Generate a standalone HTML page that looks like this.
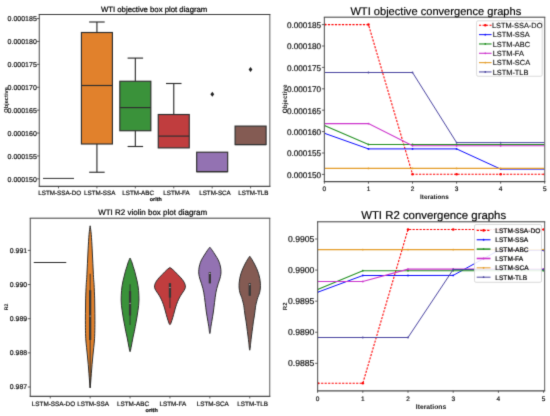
<!DOCTYPE html>
<html><head><meta charset="utf-8"><style>
html,body{margin:0;padding:0;background:#fff;}
svg{display:block;font-family:"Liberation Sans", sans-serif;text-rendering:geometricPrecision;}
#wrap{width:550px;height:416px;overflow:hidden;will-change:transform;}
</style></head><body>
<div id="wrap"><svg width="550" height="416" viewBox="0 0 550 416">
<defs><filter id="soft" x="0" y="0" width="550" height="416" filterUnits="userSpaceOnUse" color-interpolation-filters="sRGB"><feConvolveMatrix order="3" kernelMatrix="0.01440 0.09120 0.01440 0.09120 0.57760 0.09120 0.01440 0.09120 0.01440" edgeMode="duplicate" preserveAlpha="true"/></filter></defs>
<g filter="url(#soft)">
<rect x="0" y="0" width="550" height="416" fill="#fff"/>
<text x="154.15" y="12.00" font-size="7.76" text-anchor="middle" fill="#000" stroke="#000" stroke-width="0.22" >WTI objective box plot diagram</text>
<line x1="43.01" y1="178.40" x2="74.01" y2="178.40" stroke="#2e2e2e" stroke-width="1.0" />
<line x1="96.92" y1="22.00" x2="96.92" y2="32.50" stroke="#2e2e2e" stroke-width="1.15" />
<line x1="89.17" y1="22.00" x2="104.67" y2="22.00" stroke="#2e2e2e" stroke-width="1.15" />
<line x1="96.92" y1="144.00" x2="96.92" y2="172.25" stroke="#2e2e2e" stroke-width="1.15" />
<line x1="89.17" y1="172.25" x2="104.67" y2="172.25" stroke="#2e2e2e" stroke-width="1.15" />
<rect x="81.42" y="32.50" width="31.00" height="111.50" fill="#e1812c" stroke="#2e2e2e" stroke-width="1.15" />
<line x1="81.42" y1="85.50" x2="112.42" y2="85.50" stroke="#2e2e2e" stroke-width="1.15" />
<line x1="135.34" y1="58.10" x2="135.34" y2="81.25" stroke="#2e2e2e" stroke-width="1.15" />
<line x1="127.59" y1="58.10" x2="143.09" y2="58.10" stroke="#2e2e2e" stroke-width="1.15" />
<line x1="135.34" y1="130.75" x2="135.34" y2="146.50" stroke="#2e2e2e" stroke-width="1.15" />
<line x1="127.59" y1="146.50" x2="143.09" y2="146.50" stroke="#2e2e2e" stroke-width="1.15" />
<rect x="119.84" y="81.25" width="31.00" height="49.50" fill="#3a923a" stroke="#2e2e2e" stroke-width="1.15" />
<line x1="119.84" y1="107.60" x2="150.84" y2="107.60" stroke="#2e2e2e" stroke-width="1.15" />
<line x1="173.76" y1="83.50" x2="173.76" y2="114.50" stroke="#2e2e2e" stroke-width="1.15" />
<line x1="166.01" y1="83.50" x2="181.51" y2="83.50" stroke="#2e2e2e" stroke-width="1.15" />
<rect x="158.26" y="114.50" width="31.00" height="33.40" fill="#c03d3e" stroke="#2e2e2e" stroke-width="1.15" />
<line x1="158.26" y1="136.10" x2="189.26" y2="136.10" stroke="#2e2e2e" stroke-width="1.15" />
<rect x="196.68" y="152.20" width="31.00" height="19.50" fill="#9372b2" stroke="#2e2e2e" stroke-width="1.15" />
<line x1="196.68" y1="171.70" x2="227.68" y2="171.70" stroke="#2e2e2e" stroke-width="1.15" />
<rect x="235.09" y="126.10" width="31.00" height="18.50" fill="#845b53" stroke="#2e2e2e" stroke-width="1.15" />
<line x1="235.09" y1="144.60" x2="266.09" y2="144.60" stroke="#2e2e2e" stroke-width="1.15" />
<path d="M212.30,91.85 L214.20,94.35 L212.30,96.85 L210.40,94.35 Z" fill="#222"/>
<path d="M250.50,67.10 L252.40,69.60 L250.50,72.10 L248.60,69.60 Z" fill="#222"/>
<line x1="39.30" y1="14.50" x2="39.30" y2="186.40" stroke="#666" stroke-width="1.2"/>
<line x1="269.80" y1="14.50" x2="269.80" y2="186.40" stroke="#777" stroke-width="1.2"/>
<line x1="38.70" y1="14.50" x2="270.40" y2="14.50" stroke="#3c3c3c" stroke-width="1.0"/>
<line x1="38.70" y1="186.40" x2="270.40" y2="186.40" stroke="#4a4a4a" stroke-width="1.2"/>
<line x1="36.80" y1="178.85" x2="39.30" y2="178.85" stroke="#3a3a3a" stroke-width="0.8" />
<text x="36.80" y="181.75" font-size="7.0" text-anchor="end" fill="#111111" stroke="#111111" stroke-width="0.2" >0.000150</text>
<line x1="36.80" y1="155.95" x2="39.30" y2="155.95" stroke="#3a3a3a" stroke-width="0.8" />
<text x="36.80" y="158.85" font-size="7.0" text-anchor="end" fill="#111111" stroke="#111111" stroke-width="0.2" >0.000155</text>
<line x1="36.80" y1="133.05" x2="39.30" y2="133.05" stroke="#3a3a3a" stroke-width="0.8" />
<text x="36.80" y="135.95" font-size="7.0" text-anchor="end" fill="#111111" stroke="#111111" stroke-width="0.2" >0.000160</text>
<line x1="36.80" y1="110.15" x2="39.30" y2="110.15" stroke="#3a3a3a" stroke-width="0.8" />
<text x="36.80" y="113.05" font-size="7.0" text-anchor="end" fill="#111111" stroke="#111111" stroke-width="0.2" >0.000165</text>
<line x1="36.80" y1="87.25" x2="39.30" y2="87.25" stroke="#3a3a3a" stroke-width="0.8" />
<text x="36.80" y="90.15" font-size="7.0" text-anchor="end" fill="#111111" stroke="#111111" stroke-width="0.2" >0.000170</text>
<line x1="36.80" y1="64.35" x2="39.30" y2="64.35" stroke="#3a3a3a" stroke-width="0.8" />
<text x="36.80" y="67.25" font-size="7.0" text-anchor="end" fill="#111111" stroke="#111111" stroke-width="0.2" >0.000175</text>
<line x1="36.80" y1="41.45" x2="39.30" y2="41.45" stroke="#3a3a3a" stroke-width="0.8" />
<text x="36.80" y="44.35" font-size="7.0" text-anchor="end" fill="#111111" stroke="#111111" stroke-width="0.2" >0.000180</text>
<line x1="36.80" y1="18.55" x2="39.30" y2="18.55" stroke="#3a3a3a" stroke-width="0.8" />
<text x="36.80" y="21.45" font-size="7.0" text-anchor="end" fill="#111111" stroke="#111111" stroke-width="0.2" >0.000185</text>
<line x1="58.51" y1="186.40" x2="58.51" y2="188.40" stroke="#3a3a3a" stroke-width="0.8" />
<text x="59.71" y="195.00" font-size="6.25" text-anchor="middle" fill="#111111" stroke="#111111" stroke-width="0.2" >LSTM-SSA-DO</text>
<line x1="96.92" y1="186.40" x2="96.92" y2="188.40" stroke="#3a3a3a" stroke-width="0.8" />
<text x="99.72" y="195.00" font-size="6.25" text-anchor="middle" fill="#111111" stroke="#111111" stroke-width="0.2" >LSTM-SSA</text>
<line x1="135.34" y1="186.40" x2="135.34" y2="188.40" stroke="#3a3a3a" stroke-width="0.8" />
<text x="138.14" y="195.00" font-size="6.25" text-anchor="middle" fill="#111111" stroke="#111111" stroke-width="0.2" >LSTM-ABC</text>
<line x1="173.76" y1="186.40" x2="173.76" y2="188.40" stroke="#3a3a3a" stroke-width="0.8" />
<text x="176.56" y="195.00" font-size="6.25" text-anchor="middle" fill="#111111" stroke="#111111" stroke-width="0.2" >LSTM-FA</text>
<line x1="212.18" y1="186.40" x2="212.18" y2="188.40" stroke="#3a3a3a" stroke-width="0.8" />
<text x="214.98" y="195.00" font-size="6.25" text-anchor="middle" fill="#111111" stroke="#111111" stroke-width="0.2" >LSTM-SCA</text>
<line x1="250.59" y1="186.40" x2="250.59" y2="188.40" stroke="#3a3a3a" stroke-width="0.8" />
<text x="253.39" y="195.00" font-size="6.25" text-anchor="middle" fill="#111111" stroke="#111111" stroke-width="0.2" >LSTM-TLB</text>
<text x="155.80" y="201.20" font-size="5.4" text-anchor="middle" font-weight="bold" fill="#111111" stroke="#111111" stroke-width="0.2" >orith</text>
<text transform="translate(7.7,100) rotate(-90)" font-size="5.7" text-anchor="middle" font-weight="bold" fill="#111111">Objective</text>
<text x="435.80" y="14.50" font-size="11.1" text-anchor="middle" fill="#000" stroke="#000" stroke-width="0.16" >WTI objective convergence graphs</text>
<clipPath id="ctr"><rect x="324.4" y="17.2" width="220.30000000000007" height="164.5"/></clipPath>
<polyline points="324.40,24.60 368.46,24.60 412.52,174.20 456.58,174.20 500.64,174.20 544.70,174.20" fill="none" stroke="#ff0000" stroke-width="1.1" stroke-dasharray="2.2,1.3" clip-path="url(#ctr)"/>
<circle cx="324.40" cy="24.60" r="1.3" fill="#ff0000" clip-path="url(#ctr)"/>
<circle cx="368.46" cy="24.60" r="1.3" fill="#ff0000" clip-path="url(#ctr)"/>
<circle cx="412.52" cy="174.20" r="1.3" fill="#ff0000" clip-path="url(#ctr)"/>
<circle cx="456.58" cy="174.20" r="1.3" fill="#ff0000" clip-path="url(#ctr)"/>
<circle cx="500.64" cy="174.20" r="1.3" fill="#ff0000" clip-path="url(#ctr)"/>
<circle cx="544.70" cy="174.20" r="1.3" fill="#ff0000" clip-path="url(#ctr)"/>
<polyline points="324.40,133.25 368.46,148.90 412.52,148.90 456.58,148.90 500.64,169.10 544.70,169.10" fill="none" stroke="#0a0aff" stroke-width="1.0" clip-path="url(#ctr)"/>
<circle cx="324.40" cy="133.25" r="0.9" fill="#0a0aff" clip-path="url(#ctr)"/>
<circle cx="368.46" cy="148.90" r="0.9" fill="#0a0aff" clip-path="url(#ctr)"/>
<circle cx="412.52" cy="148.90" r="0.9" fill="#0a0aff" clip-path="url(#ctr)"/>
<circle cx="456.58" cy="148.90" r="0.9" fill="#0a0aff" clip-path="url(#ctr)"/>
<circle cx="500.64" cy="169.10" r="0.9" fill="#0a0aff" clip-path="url(#ctr)"/>
<circle cx="544.70" cy="169.10" r="0.9" fill="#0a0aff" clip-path="url(#ctr)"/>
<polyline points="324.40,125.50 368.46,144.50 412.52,144.50 456.58,144.50 500.64,144.50 544.70,144.50" fill="none" stroke="#1f8f1f" stroke-width="1.1" clip-path="url(#ctr)"/>
<circle cx="324.40" cy="125.50" r="0.9" fill="#1f8f1f" clip-path="url(#ctr)"/>
<circle cx="368.46" cy="144.50" r="0.9" fill="#1f8f1f" clip-path="url(#ctr)"/>
<circle cx="412.52" cy="144.50" r="0.9" fill="#1f8f1f" clip-path="url(#ctr)"/>
<circle cx="456.58" cy="144.50" r="0.9" fill="#1f8f1f" clip-path="url(#ctr)"/>
<circle cx="500.64" cy="144.50" r="0.9" fill="#1f8f1f" clip-path="url(#ctr)"/>
<circle cx="544.70" cy="144.50" r="0.9" fill="#1f8f1f" clip-path="url(#ctr)"/>
<polyline points="324.40,123.60 368.46,123.60 412.52,145.80 456.58,145.80 500.64,145.80 544.70,145.80" fill="none" stroke="#cc33cc" stroke-width="1.1" clip-path="url(#ctr)"/>
<circle cx="324.40" cy="123.60" r="0.9" fill="#cc33cc" clip-path="url(#ctr)"/>
<circle cx="368.46" cy="123.60" r="0.9" fill="#cc33cc" clip-path="url(#ctr)"/>
<circle cx="412.52" cy="145.80" r="0.9" fill="#cc33cc" clip-path="url(#ctr)"/>
<circle cx="456.58" cy="145.80" r="0.9" fill="#cc33cc" clip-path="url(#ctr)"/>
<circle cx="500.64" cy="145.80" r="0.9" fill="#cc33cc" clip-path="url(#ctr)"/>
<circle cx="544.70" cy="145.80" r="0.9" fill="#cc33cc" clip-path="url(#ctr)"/>
<polyline points="324.40,168.40 368.46,168.40 412.52,168.40 456.58,168.40 500.64,168.40 544.70,168.40" fill="none" stroke="#e49c28" stroke-width="1.1" clip-path="url(#ctr)"/>
<circle cx="324.40" cy="168.40" r="0.9" fill="#e49c28" clip-path="url(#ctr)"/>
<circle cx="368.46" cy="168.40" r="0.9" fill="#e49c28" clip-path="url(#ctr)"/>
<circle cx="412.52" cy="168.40" r="0.9" fill="#e49c28" clip-path="url(#ctr)"/>
<circle cx="456.58" cy="168.40" r="0.9" fill="#e49c28" clip-path="url(#ctr)"/>
<circle cx="500.64" cy="168.40" r="0.9" fill="#e49c28" clip-path="url(#ctr)"/>
<circle cx="544.70" cy="168.40" r="0.9" fill="#e49c28" clip-path="url(#ctr)"/>
<polyline points="324.40,72.50 368.46,72.50 412.52,72.50 456.58,142.60 500.64,142.60 544.70,142.60" fill="none" stroke="#4a44a0" stroke-width="1.0" clip-path="url(#ctr)"/>
<circle cx="324.40" cy="72.50" r="0.9" fill="#4a44a0" clip-path="url(#ctr)"/>
<circle cx="368.46" cy="72.50" r="0.9" fill="#4a44a0" clip-path="url(#ctr)"/>
<circle cx="412.52" cy="72.50" r="0.9" fill="#4a44a0" clip-path="url(#ctr)"/>
<circle cx="456.58" cy="142.60" r="0.9" fill="#4a44a0" clip-path="url(#ctr)"/>
<circle cx="500.64" cy="142.60" r="0.9" fill="#4a44a0" clip-path="url(#ctr)"/>
<circle cx="544.70" cy="142.60" r="0.9" fill="#4a44a0" clip-path="url(#ctr)"/>
<line x1="324.40" y1="17.20" x2="324.40" y2="181.70" stroke="#666" stroke-width="1.2"/>
<line x1="544.70" y1="17.20" x2="544.70" y2="181.70" stroke="#777" stroke-width="1.2"/>
<line x1="323.80" y1="17.20" x2="545.30" y2="17.20" stroke="#3c3c3c" stroke-width="1.0"/>
<line x1="323.80" y1="181.70" x2="545.30" y2="181.70" stroke="#4a4a4a" stroke-width="1.2"/>
<line x1="321.90" y1="174.40" x2="324.40" y2="174.40" stroke="#3a3a3a" stroke-width="0.8" />
<text x="321.10" y="177.80" font-size="8.2" text-anchor="end" fill="#111111" stroke="#111111" stroke-width="0.2" >0.000150</text>
<line x1="321.90" y1="153.00" x2="324.40" y2="153.00" stroke="#3a3a3a" stroke-width="0.8" />
<text x="321.10" y="156.40" font-size="8.2" text-anchor="end" fill="#111111" stroke="#111111" stroke-width="0.2" >0.000155</text>
<line x1="321.90" y1="131.60" x2="324.40" y2="131.60" stroke="#3a3a3a" stroke-width="0.8" />
<text x="321.10" y="135.00" font-size="8.2" text-anchor="end" fill="#111111" stroke="#111111" stroke-width="0.2" >0.000160</text>
<line x1="321.90" y1="110.20" x2="324.40" y2="110.20" stroke="#3a3a3a" stroke-width="0.8" />
<text x="321.10" y="113.60" font-size="8.2" text-anchor="end" fill="#111111" stroke="#111111" stroke-width="0.2" >0.000165</text>
<line x1="321.90" y1="88.80" x2="324.40" y2="88.80" stroke="#3a3a3a" stroke-width="0.8" />
<text x="321.10" y="92.20" font-size="8.2" text-anchor="end" fill="#111111" stroke="#111111" stroke-width="0.2" >0.000170</text>
<line x1="321.90" y1="67.40" x2="324.40" y2="67.40" stroke="#3a3a3a" stroke-width="0.8" />
<text x="321.10" y="70.80" font-size="8.2" text-anchor="end" fill="#111111" stroke="#111111" stroke-width="0.2" >0.000175</text>
<line x1="321.90" y1="46.00" x2="324.40" y2="46.00" stroke="#3a3a3a" stroke-width="0.8" />
<text x="321.10" y="49.40" font-size="8.2" text-anchor="end" fill="#111111" stroke="#111111" stroke-width="0.2" >0.000180</text>
<line x1="321.90" y1="24.60" x2="324.40" y2="24.60" stroke="#3a3a3a" stroke-width="0.8" />
<text x="321.10" y="28.00" font-size="8.2" text-anchor="end" fill="#111111" stroke="#111111" stroke-width="0.2" >0.000185</text>
<line x1="324.40" y1="181.70" x2="324.40" y2="183.70" stroke="#3a3a3a" stroke-width="0.8" />
<text x="324.40" y="191.40" font-size="6.5" text-anchor="middle" fill="#111111" stroke="#111111" stroke-width="0.2" >0</text>
<line x1="368.46" y1="181.70" x2="368.46" y2="183.70" stroke="#3a3a3a" stroke-width="0.8" />
<text x="368.46" y="191.40" font-size="6.5" text-anchor="middle" fill="#111111" stroke="#111111" stroke-width="0.2" >1</text>
<line x1="412.52" y1="181.70" x2="412.52" y2="183.70" stroke="#3a3a3a" stroke-width="0.8" />
<text x="412.52" y="191.40" font-size="6.5" text-anchor="middle" fill="#111111" stroke="#111111" stroke-width="0.2" >2</text>
<line x1="456.58" y1="181.70" x2="456.58" y2="183.70" stroke="#3a3a3a" stroke-width="0.8" />
<text x="456.58" y="191.40" font-size="6.5" text-anchor="middle" fill="#111111" stroke="#111111" stroke-width="0.2" >3</text>
<line x1="500.64" y1="181.70" x2="500.64" y2="183.70" stroke="#3a3a3a" stroke-width="0.8" />
<text x="500.64" y="191.40" font-size="6.5" text-anchor="middle" fill="#111111" stroke="#111111" stroke-width="0.2" >4</text>
<line x1="544.70" y1="181.70" x2="544.70" y2="183.70" stroke="#3a3a3a" stroke-width="0.8" />
<text x="544.70" y="191.40" font-size="6.5" text-anchor="middle" fill="#111111" stroke="#111111" stroke-width="0.2" >5</text>
<text x="434.40" y="199.20" font-size="6.4" text-anchor="middle" font-weight="bold" fill="#111111" stroke="#111111" stroke-width="0" >Iterations</text>
<text transform="translate(286.5,98.9) rotate(-90)" font-size="6.4" text-anchor="middle" font-weight="bold" fill="#111111">Objective</text>
<rect x="476.60" y="20.80" width="65.60" height="55.45" rx="1.5" fill="#ffffff" fill-opacity="0.8" stroke="#d0d0d0" stroke-width="0.8"/>
<line x1="479.00" y1="25.30" x2="491.60" y2="25.30" stroke="#ff0000" stroke-width="1.1" stroke-dasharray="2.2,1.3"/>
<circle cx="485.30" cy="25.30" r="1.3" fill="#ff0000"/>
<text x="491.90" y="27.96" font-size="7.4" fill="#111" stroke="#111" stroke-width="0.14">LSTM-SSA-DO</text>
<line x1="479.00" y1="34.63" x2="491.60" y2="34.63" stroke="#0a0aff" stroke-width="1.0"/>
<circle cx="485.30" cy="34.63" r="0.9" fill="#0a0aff"/>
<text x="492.70" y="37.29" font-size="7.4" fill="#111" stroke="#111" stroke-width="0.14">LSTM-SSA</text>
<line x1="479.00" y1="43.96" x2="491.60" y2="43.96" stroke="#1f8f1f" stroke-width="1.1"/>
<circle cx="485.30" cy="43.96" r="0.9" fill="#1f8f1f"/>
<text x="492.70" y="46.62" font-size="7.4" fill="#111" stroke="#111" stroke-width="0.14">LSTM-ABC</text>
<line x1="479.00" y1="53.29" x2="491.60" y2="53.29" stroke="#cc33cc" stroke-width="1.1"/>
<circle cx="485.30" cy="53.29" r="0.9" fill="#cc33cc"/>
<text x="492.70" y="55.95" font-size="7.4" fill="#111" stroke="#111" stroke-width="0.14">LSTM-FA</text>
<line x1="479.00" y1="62.62" x2="491.60" y2="62.62" stroke="#e49c28" stroke-width="1.1"/>
<circle cx="485.30" cy="62.62" r="0.9" fill="#e49c28"/>
<text x="492.70" y="65.28" font-size="7.4" fill="#111" stroke="#111" stroke-width="0.14">LSTM-SCA</text>
<line x1="479.00" y1="71.95" x2="491.60" y2="71.95" stroke="#4a44a0" stroke-width="1.0"/>
<circle cx="485.30" cy="71.95" r="0.9" fill="#4a44a0"/>
<text x="492.70" y="74.61" font-size="7.4" fill="#111" stroke="#111" stroke-width="0.14">LSTM-TLB</text>
<text x="152.65" y="214.80" font-size="8.0" text-anchor="middle" fill="#000" stroke="#000" stroke-width="0.2" >WTI R2 violin box plot diagram</text>
<line x1="33.75" y1="262.50" x2="66.25" y2="262.50" stroke="#2a2a2a" stroke-width="1.0" />
<path d="M90.15,225.80 C90.33,227.23 90.92,230.55 91.25,234.40 C91.58,238.25 91.88,244.08 92.15,248.90 C92.42,253.72 92.62,258.50 92.85,263.30 C93.08,268.10 93.35,274.18 93.55,277.70 C93.75,281.22 93.87,280.87 94.05,284.40 C94.23,287.93 94.52,294.08 94.65,298.90 C94.78,303.72 94.82,308.50 94.85,313.30 C94.88,318.10 94.90,323.47 94.85,327.70 C94.80,331.93 94.73,335.43 94.55,338.70 C94.37,341.97 94.03,344.42 93.75,347.30 C93.47,350.18 93.13,353.12 92.85,356.00 C92.57,358.88 92.30,361.72 92.05,364.60 C91.80,367.48 91.57,370.40 91.35,373.30 C91.12,376.20 90.90,379.57 90.70,382.00 C90.50,384.43 90.33,387.90 90.15,387.90 C89.97,387.90 89.80,384.43 89.60,382.00 C89.40,379.57 89.17,376.20 88.95,373.30 C88.72,370.40 88.50,367.48 88.25,364.60 C88.00,361.72 87.73,358.88 87.45,356.00 C87.17,353.12 86.83,350.18 86.55,347.30 C86.27,344.42 85.93,341.97 85.75,338.70 C85.57,335.43 85.50,331.93 85.45,327.70 C85.40,323.47 85.42,318.10 85.45,313.30 C85.48,308.50 85.52,303.72 85.65,298.90 C85.78,294.08 86.07,287.93 86.25,284.40 C86.43,280.87 86.55,281.22 86.75,277.70 C86.95,274.18 87.22,268.10 87.45,263.30 C87.68,258.50 87.88,253.72 88.15,248.90 C88.42,244.08 88.72,238.25 89.05,234.40 C89.38,230.55 89.97,227.23 90.15,225.80 Z" fill="#e1812c" stroke="#303030" stroke-width="1.0"/>
<line x1="90.15" y1="273.80" x2="90.15" y2="388.00" stroke="#2e2e2e" stroke-width="0.9" />
<rect x="89.00" y="290.20" width="2.30" height="49.80" fill="#383838" stroke="none" stroke-width="0" />
<circle cx="90.15" cy="316.00" r="0.6" fill="#d8d8d8"/>
<path d="M130.05,258.00 C130.32,258.60 131.13,260.20 131.65,261.60 C132.17,263.00 132.65,264.80 133.15,266.40 C133.65,268.00 134.20,269.60 134.65,271.20 C135.10,272.80 135.45,274.40 135.85,276.00 C136.25,277.60 136.70,279.20 137.05,280.80 C137.40,282.40 137.70,284.00 137.95,285.60 C138.20,287.20 138.40,288.80 138.55,290.40 C138.70,292.00 138.78,293.60 138.85,295.20 C138.92,296.80 138.98,298.32 138.95,300.00 C138.92,301.68 138.82,303.53 138.65,305.30 C138.48,307.07 138.20,308.83 137.95,310.60 C137.70,312.37 137.43,314.15 137.15,315.90 C136.87,317.65 136.57,319.35 136.25,321.10 C135.93,322.85 135.58,324.63 135.25,326.40 C134.92,328.17 134.62,329.93 134.25,331.70 C133.88,333.47 133.42,335.23 133.05,337.00 C132.68,338.77 132.38,340.53 132.05,342.30 C131.72,344.07 131.38,346.03 131.05,347.60 C130.72,349.17 130.38,351.70 130.05,351.70 C129.72,351.70 129.38,349.17 129.05,347.60 C128.72,346.03 128.38,344.07 128.05,342.30 C127.72,340.53 127.42,338.77 127.05,337.00 C126.68,335.23 126.22,333.47 125.85,331.70 C125.48,329.93 125.18,328.17 124.85,326.40 C124.52,324.63 124.17,322.85 123.85,321.10 C123.53,319.35 123.23,317.65 122.95,315.90 C122.67,314.15 122.40,312.37 122.15,310.60 C121.90,308.83 121.62,307.07 121.45,305.30 C121.28,303.53 121.18,301.68 121.15,300.00 C121.12,298.32 121.18,296.80 121.25,295.20 C121.32,293.60 121.40,292.00 121.55,290.40 C121.70,288.80 121.90,287.20 122.15,285.60 C122.40,284.00 122.70,282.40 123.05,280.80 C123.40,279.20 123.85,277.60 124.25,276.00 C124.65,274.40 125.00,272.80 125.45,271.20 C125.90,269.60 126.45,268.00 126.95,266.40 C127.45,264.80 127.93,263.00 128.45,261.60 C128.97,260.20 129.78,258.60 130.05,258.00 Z" fill="#3a923a" stroke="#303030" stroke-width="1.0"/>
<line x1="130.05" y1="284.25" x2="130.05" y2="325.00" stroke="#2e2e2e" stroke-width="0.9" />
<rect x="128.90" y="291.10" width="2.30" height="24.40" fill="#383838" stroke="none" stroke-width="0" />
<circle cx="130.05" cy="303.30" r="0.6" fill="#d8d8d8"/>
<path d="M169.95,267.60 C170.32,267.85 171.35,268.45 172.15,269.10 C172.95,269.75 173.80,270.57 174.75,271.50 C175.70,272.43 176.82,273.63 177.85,274.70 C178.88,275.77 180.03,276.85 180.95,277.90 C181.87,278.95 182.68,279.95 183.35,281.00 C184.02,282.05 184.62,283.13 184.95,284.20 C185.28,285.27 185.52,286.33 185.35,287.40 C185.18,288.47 184.53,289.55 183.95,290.60 C183.37,291.65 182.53,292.65 181.85,293.70 C181.17,294.75 180.57,295.57 179.85,296.90 C179.13,298.23 178.30,299.85 177.55,301.70 C176.80,303.55 176.00,305.88 175.35,308.00 C174.70,310.12 174.25,312.28 173.65,314.40 C173.05,316.52 172.37,318.98 171.75,320.70 C171.13,322.42 170.55,324.70 169.95,324.70 C169.35,324.70 168.77,322.42 168.15,320.70 C167.53,318.98 166.85,316.52 166.25,314.40 C165.65,312.28 165.20,310.12 164.55,308.00 C163.90,305.88 163.10,303.55 162.35,301.70 C161.60,299.85 160.77,298.23 160.05,296.90 C159.33,295.57 158.73,294.75 158.05,293.70 C157.37,292.65 156.53,291.65 155.95,290.60 C155.37,289.55 154.72,288.47 154.55,287.40 C154.38,286.33 154.62,285.27 154.95,284.20 C155.28,283.13 155.88,282.05 156.55,281.00 C157.22,279.95 158.03,278.95 158.95,277.90 C159.87,276.85 161.02,275.77 162.05,274.70 C163.08,273.63 164.20,272.43 165.15,271.50 C166.10,270.57 166.95,269.75 167.75,269.10 C168.55,268.45 169.58,267.85 169.95,267.60 Z" fill="#c03d3e" stroke="#303030" stroke-width="1.0"/>
<line x1="169.95" y1="283.20" x2="169.95" y2="308.20" stroke="#2e2e2e" stroke-width="0.9" />
<rect x="168.80" y="283.20" width="2.30" height="14.40" fill="#383838" stroke="none" stroke-width="0" />
<circle cx="169.95" cy="287.50" r="0.6" fill="#d8d8d8"/>
<path d="M209.85,247.20 C210.23,247.70 211.25,248.90 212.15,250.20 C213.05,251.50 214.25,253.40 215.25,255.00 C216.25,256.60 217.37,258.20 218.15,259.80 C218.93,261.40 219.50,263.00 219.95,264.60 C220.40,266.20 220.70,267.80 220.85,269.40 C221.00,271.00 221.03,272.60 220.85,274.20 C220.67,275.80 220.20,277.40 219.75,279.00 C219.30,280.60 218.65,282.20 218.15,283.80 C217.65,285.40 217.13,287.10 216.75,288.60 C216.37,290.10 216.12,291.30 215.85,292.80 C215.58,294.30 215.37,296.00 215.15,297.60 C214.93,299.20 214.75,300.80 214.55,302.40 C214.35,304.00 214.15,305.60 213.95,307.20 C213.75,308.80 213.58,310.40 213.35,312.00 C213.12,313.60 212.82,315.20 212.55,316.80 C212.28,318.40 212.02,320.00 211.75,321.60 C211.48,323.20 211.27,324.42 210.95,326.40 C210.63,328.38 210.22,333.50 209.85,333.50 C209.48,333.50 209.07,328.38 208.75,326.40 C208.43,324.42 208.22,323.20 207.95,321.60 C207.68,320.00 207.42,318.40 207.15,316.80 C206.88,315.20 206.58,313.60 206.35,312.00 C206.12,310.40 205.95,308.80 205.75,307.20 C205.55,305.60 205.35,304.00 205.15,302.40 C204.95,300.80 204.77,299.20 204.55,297.60 C204.33,296.00 204.12,294.30 203.85,292.80 C203.58,291.30 203.33,290.10 202.95,288.60 C202.57,287.10 202.05,285.40 201.55,283.80 C201.05,282.20 200.40,280.60 199.95,279.00 C199.50,277.40 199.03,275.80 198.85,274.20 C198.67,272.60 198.70,271.00 198.85,269.40 C199.00,267.80 199.30,266.20 199.75,264.60 C200.20,263.00 200.77,261.40 201.55,259.80 C202.33,258.20 203.45,256.60 204.45,255.00 C205.45,253.40 206.65,251.50 207.55,250.20 C208.45,248.90 209.47,247.70 209.85,247.20 Z" fill="#9372b2" stroke="#303030" stroke-width="1.0"/>
<line x1="209.85" y1="272.20" x2="209.85" y2="283.30" stroke="#2e2e2e" stroke-width="0.9" />
<rect x="208.70" y="272.20" width="2.30" height="11.10" fill="#383838" stroke="none" stroke-width="0" />
<circle cx="209.85" cy="273.40" r="0.6" fill="#d8d8d8"/>
<path d="M249.75,256.20 C250.08,256.70 250.97,257.90 251.75,259.20 C252.53,260.50 253.62,262.40 254.45,264.00 C255.28,265.60 256.07,267.20 256.75,268.80 C257.43,270.40 258.05,272.00 258.55,273.60 C259.05,275.20 259.45,276.80 259.75,278.40 C260.05,280.00 260.25,281.60 260.35,283.20 C260.45,284.80 260.48,286.40 260.35,288.00 C260.22,289.60 259.98,291.20 259.55,292.80 C259.12,294.40 258.22,296.20 257.75,297.60 C257.28,299.00 257.08,299.92 256.75,301.20 C256.42,302.48 256.03,303.73 255.75,305.30 C255.47,306.87 255.28,308.83 255.05,310.60 C254.82,312.37 254.62,314.15 254.35,315.90 C254.08,317.65 253.72,319.35 253.45,321.10 C253.18,322.85 252.98,324.63 252.75,326.40 C252.52,328.17 252.28,329.93 252.05,331.70 C251.82,333.47 251.57,335.23 251.35,337.00 C251.13,338.77 251.02,340.10 250.75,342.30 C250.48,344.50 250.08,350.20 249.75,350.20 C249.42,350.20 249.02,344.50 248.75,342.30 C248.48,340.10 248.37,338.77 248.15,337.00 C247.93,335.23 247.68,333.47 247.45,331.70 C247.22,329.93 246.98,328.17 246.75,326.40 C246.52,324.63 246.32,322.85 246.05,321.10 C245.78,319.35 245.42,317.65 245.15,315.90 C244.88,314.15 244.68,312.37 244.45,310.60 C244.22,308.83 244.03,306.87 243.75,305.30 C243.47,303.73 243.08,302.48 242.75,301.20 C242.42,299.92 242.22,299.00 241.75,297.60 C241.28,296.20 240.38,294.40 239.95,292.80 C239.52,291.20 239.28,289.60 239.15,288.00 C239.02,286.40 239.05,284.80 239.15,283.20 C239.25,281.60 239.45,280.00 239.75,278.40 C240.05,276.80 240.45,275.20 240.95,273.60 C241.45,272.00 242.07,270.40 242.75,268.80 C243.43,267.20 244.22,265.60 245.05,264.00 C245.88,262.40 246.97,260.50 247.75,259.20 C248.53,257.90 249.42,256.70 249.75,256.20 Z" fill="#845b53" stroke="#303030" stroke-width="1.0"/>
<line x1="249.75" y1="283.20" x2="249.75" y2="295.70" stroke="#2e2e2e" stroke-width="0.9" />
<rect x="248.60" y="283.20" width="2.30" height="12.50" fill="#383838" stroke="none" stroke-width="0" />
<circle cx="249.75" cy="284.60" r="0.6" fill="#d8d8d8"/>
<line x1="30.30" y1="218.20" x2="30.30" y2="396.40" stroke="#666" stroke-width="1.2"/>
<line x1="269.70" y1="218.20" x2="269.70" y2="396.40" stroke="#777" stroke-width="1.2"/>
<line x1="29.70" y1="218.20" x2="270.30" y2="218.20" stroke="#3c3c3c" stroke-width="1.0"/>
<line x1="29.70" y1="396.40" x2="270.30" y2="396.40" stroke="#4a4a4a" stroke-width="1.2"/>
<line x1="27.80" y1="387.00" x2="30.30" y2="387.00" stroke="#3a3a3a" stroke-width="0.8" />
<text x="27.10" y="389.40" font-size="6.9" text-anchor="end" fill="#111111" stroke="#111111" stroke-width="0.2" >0.987</text>
<line x1="27.80" y1="352.85" x2="30.30" y2="352.85" stroke="#3a3a3a" stroke-width="0.8" />
<text x="27.10" y="355.25" font-size="6.9" text-anchor="end" fill="#111111" stroke="#111111" stroke-width="0.2" >0.988</text>
<line x1="27.80" y1="318.70" x2="30.30" y2="318.70" stroke="#3a3a3a" stroke-width="0.8" />
<text x="27.10" y="321.10" font-size="6.9" text-anchor="end" fill="#111111" stroke="#111111" stroke-width="0.2" >0.989</text>
<line x1="27.80" y1="284.55" x2="30.30" y2="284.55" stroke="#3a3a3a" stroke-width="0.8" />
<text x="27.10" y="286.95" font-size="6.9" text-anchor="end" fill="#111111" stroke="#111111" stroke-width="0.2" >0.990</text>
<line x1="27.80" y1="250.40" x2="30.30" y2="250.40" stroke="#3a3a3a" stroke-width="0.8" />
<text x="27.10" y="252.80" font-size="6.9" text-anchor="end" fill="#111111" stroke="#111111" stroke-width="0.2" >0.991</text>
<line x1="50.25" y1="396.40" x2="50.25" y2="398.40" stroke="#3a3a3a" stroke-width="0.8" />
<text x="53.45" y="405.90" font-size="6.35" text-anchor="middle" fill="#111111" stroke="#111111" stroke-width="0.2" >LSTM-SSA-DO</text>
<line x1="90.15" y1="396.40" x2="90.15" y2="398.40" stroke="#3a3a3a" stroke-width="0.8" />
<text x="93.05" y="405.90" font-size="6.35" text-anchor="middle" fill="#111111" stroke="#111111" stroke-width="0.2" >LSTM-SSA</text>
<line x1="130.05" y1="396.40" x2="130.05" y2="398.40" stroke="#3a3a3a" stroke-width="0.8" />
<text x="132.95" y="405.90" font-size="6.35" text-anchor="middle" fill="#111111" stroke="#111111" stroke-width="0.2" >LSTM-ABC</text>
<line x1="169.95" y1="396.40" x2="169.95" y2="398.40" stroke="#3a3a3a" stroke-width="0.8" />
<text x="172.85" y="405.90" font-size="6.35" text-anchor="middle" fill="#111111" stroke="#111111" stroke-width="0.2" >LSTM-FA</text>
<line x1="209.85" y1="396.40" x2="209.85" y2="398.40" stroke="#3a3a3a" stroke-width="0.8" />
<text x="212.75" y="405.90" font-size="6.35" text-anchor="middle" fill="#111111" stroke="#111111" stroke-width="0.2" >LSTM-SCA</text>
<line x1="249.75" y1="396.40" x2="249.75" y2="398.40" stroke="#3a3a3a" stroke-width="0.8" />
<text x="252.65" y="405.90" font-size="6.35" text-anchor="middle" fill="#111111" stroke="#111111" stroke-width="0.2" >LSTM-TLB</text>
<text x="151.70" y="412.10" font-size="5.5" text-anchor="middle" font-weight="bold" fill="#111111" stroke="#111111" stroke-width="0.2" >orith</text>
<text transform="translate(7.9,307) rotate(-90)" font-size="5.2" text-anchor="middle" font-weight="bold" fill="#111111">R2</text>
<text x="433.65" y="218.50" font-size="11.4" text-anchor="middle" fill="#000" stroke="#000" stroke-width="0.16" >WTI R2 convergence graphs</text>
<clipPath id="cbr"><rect x="317.6" y="221.8" width="227.0" height="169.0"/></clipPath>
<polyline points="317.60,383.25 362.80,383.25 408.00,229.50 453.20,229.50 498.40,229.50 543.60,229.50" fill="none" stroke="#ff0000" stroke-width="1.1" stroke-dasharray="2.2,1.3" clip-path="url(#cbr)"/>
<circle cx="317.60" cy="383.25" r="1.3" fill="#ff0000" clip-path="url(#cbr)"/>
<circle cx="362.80" cy="383.25" r="1.3" fill="#ff0000" clip-path="url(#cbr)"/>
<circle cx="408.00" cy="229.50" r="1.3" fill="#ff0000" clip-path="url(#cbr)"/>
<circle cx="453.20" cy="229.50" r="1.3" fill="#ff0000" clip-path="url(#cbr)"/>
<circle cx="498.40" cy="229.50" r="1.3" fill="#ff0000" clip-path="url(#cbr)"/>
<circle cx="543.60" cy="229.50" r="1.3" fill="#ff0000" clip-path="url(#cbr)"/>
<polyline points="317.60,292.25 362.80,275.50 408.00,275.50 453.20,275.40 498.40,250.50 543.60,250.40" fill="none" stroke="#0a0aff" stroke-width="1.0" clip-path="url(#cbr)"/>
<circle cx="317.60" cy="292.25" r="0.9" fill="#0a0aff" clip-path="url(#cbr)"/>
<circle cx="362.80" cy="275.50" r="0.9" fill="#0a0aff" clip-path="url(#cbr)"/>
<circle cx="408.00" cy="275.50" r="0.9" fill="#0a0aff" clip-path="url(#cbr)"/>
<circle cx="453.20" cy="275.40" r="0.9" fill="#0a0aff" clip-path="url(#cbr)"/>
<circle cx="498.40" cy="250.50" r="0.9" fill="#0a0aff" clip-path="url(#cbr)"/>
<circle cx="543.60" cy="250.40" r="0.9" fill="#0a0aff" clip-path="url(#cbr)"/>
<polyline points="317.60,289.50 362.80,270.70 408.00,270.70 453.20,270.70 498.40,270.70 543.60,270.70" fill="none" stroke="#1f8f1f" stroke-width="1.1" clip-path="url(#cbr)"/>
<circle cx="317.60" cy="289.50" r="0.9" fill="#1f8f1f" clip-path="url(#cbr)"/>
<circle cx="362.80" cy="270.70" r="0.9" fill="#1f8f1f" clip-path="url(#cbr)"/>
<circle cx="408.00" cy="270.70" r="0.9" fill="#1f8f1f" clip-path="url(#cbr)"/>
<circle cx="453.20" cy="270.70" r="0.9" fill="#1f8f1f" clip-path="url(#cbr)"/>
<circle cx="498.40" cy="270.70" r="0.9" fill="#1f8f1f" clip-path="url(#cbr)"/>
<circle cx="543.60" cy="270.70" r="0.9" fill="#1f8f1f" clip-path="url(#cbr)"/>
<polyline points="317.60,281.50 362.80,281.50 408.00,269.10 453.20,269.10 498.40,269.10 543.60,269.10" fill="none" stroke="#cc33cc" stroke-width="1.1" clip-path="url(#cbr)"/>
<circle cx="317.60" cy="281.50" r="0.9" fill="#cc33cc" clip-path="url(#cbr)"/>
<circle cx="362.80" cy="281.50" r="0.9" fill="#cc33cc" clip-path="url(#cbr)"/>
<circle cx="408.00" cy="269.10" r="0.9" fill="#cc33cc" clip-path="url(#cbr)"/>
<circle cx="453.20" cy="269.10" r="0.9" fill="#cc33cc" clip-path="url(#cbr)"/>
<circle cx="498.40" cy="269.10" r="0.9" fill="#cc33cc" clip-path="url(#cbr)"/>
<circle cx="543.60" cy="269.10" r="0.9" fill="#cc33cc" clip-path="url(#cbr)"/>
<polyline points="317.60,249.60 362.80,249.60 408.00,249.60 453.20,249.60 498.40,249.60 543.60,249.60" fill="none" stroke="#e49c28" stroke-width="1.1" clip-path="url(#cbr)"/>
<circle cx="317.60" cy="249.60" r="0.9" fill="#e49c28" clip-path="url(#cbr)"/>
<circle cx="362.80" cy="249.60" r="0.9" fill="#e49c28" clip-path="url(#cbr)"/>
<circle cx="408.00" cy="249.60" r="0.9" fill="#e49c28" clip-path="url(#cbr)"/>
<circle cx="453.20" cy="249.60" r="0.9" fill="#e49c28" clip-path="url(#cbr)"/>
<circle cx="498.40" cy="249.60" r="0.9" fill="#e49c28" clip-path="url(#cbr)"/>
<circle cx="543.60" cy="249.60" r="0.9" fill="#e49c28" clip-path="url(#cbr)"/>
<polyline points="317.60,337.50 362.80,337.50 408.00,337.50 453.20,269.50 498.40,269.50 543.60,269.50" fill="none" stroke="#4a44a0" stroke-width="1.0" clip-path="url(#cbr)"/>
<circle cx="317.60" cy="337.50" r="0.9" fill="#4a44a0" clip-path="url(#cbr)"/>
<circle cx="362.80" cy="337.50" r="0.9" fill="#4a44a0" clip-path="url(#cbr)"/>
<circle cx="408.00" cy="337.50" r="0.9" fill="#4a44a0" clip-path="url(#cbr)"/>
<circle cx="453.20" cy="269.50" r="0.9" fill="#4a44a0" clip-path="url(#cbr)"/>
<circle cx="498.40" cy="269.50" r="0.9" fill="#4a44a0" clip-path="url(#cbr)"/>
<circle cx="543.60" cy="269.50" r="0.9" fill="#4a44a0" clip-path="url(#cbr)"/>
<line x1="317.60" y1="221.80" x2="317.60" y2="390.80" stroke="#666" stroke-width="1.2"/>
<line x1="544.60" y1="221.80" x2="544.60" y2="390.80" stroke="#777" stroke-width="1.2"/>
<line x1="317.00" y1="221.80" x2="545.20" y2="221.80" stroke="#3c3c3c" stroke-width="1.0"/>
<line x1="317.00" y1="390.80" x2="545.20" y2="390.80" stroke="#4a4a4a" stroke-width="1.2"/>
<line x1="315.10" y1="363.32" x2="317.60" y2="363.32" stroke="#3a3a3a" stroke-width="0.8" />
<text x="314.30" y="366.42" font-size="8.6" text-anchor="end" fill="#111111" stroke="#111111" stroke-width="0.2" >0.9885</text>
<line x1="315.10" y1="332.24" x2="317.60" y2="332.24" stroke="#3a3a3a" stroke-width="0.8" />
<text x="314.30" y="335.34" font-size="8.6" text-anchor="end" fill="#111111" stroke="#111111" stroke-width="0.2" >0.9890</text>
<line x1="315.10" y1="301.16" x2="317.60" y2="301.16" stroke="#3a3a3a" stroke-width="0.8" />
<text x="314.30" y="304.26" font-size="8.6" text-anchor="end" fill="#111111" stroke="#111111" stroke-width="0.2" >0.9895</text>
<line x1="315.10" y1="270.08" x2="317.60" y2="270.08" stroke="#3a3a3a" stroke-width="0.8" />
<text x="314.30" y="273.18" font-size="8.6" text-anchor="end" fill="#111111" stroke="#111111" stroke-width="0.2" >0.9900</text>
<line x1="315.10" y1="239.00" x2="317.60" y2="239.00" stroke="#3a3a3a" stroke-width="0.8" />
<text x="314.30" y="242.10" font-size="8.6" text-anchor="end" fill="#111111" stroke="#111111" stroke-width="0.2" >0.9905</text>
<line x1="317.60" y1="390.80" x2="317.60" y2="392.80" stroke="#3a3a3a" stroke-width="0.8" />
<text x="317.60" y="401.00" font-size="6.5" text-anchor="middle" fill="#111111" stroke="#111111" stroke-width="0.2" >0</text>
<line x1="362.80" y1="390.80" x2="362.80" y2="392.80" stroke="#3a3a3a" stroke-width="0.8" />
<text x="362.80" y="401.00" font-size="6.5" text-anchor="middle" fill="#111111" stroke="#111111" stroke-width="0.2" >1</text>
<line x1="408.00" y1="390.80" x2="408.00" y2="392.80" stroke="#3a3a3a" stroke-width="0.8" />
<text x="408.00" y="401.00" font-size="6.5" text-anchor="middle" fill="#111111" stroke="#111111" stroke-width="0.2" >2</text>
<line x1="453.20" y1="390.80" x2="453.20" y2="392.80" stroke="#3a3a3a" stroke-width="0.8" />
<text x="453.20" y="401.00" font-size="6.5" text-anchor="middle" fill="#111111" stroke="#111111" stroke-width="0.2" >3</text>
<line x1="498.40" y1="390.80" x2="498.40" y2="392.80" stroke="#3a3a3a" stroke-width="0.8" />
<text x="498.40" y="401.00" font-size="6.5" text-anchor="middle" fill="#111111" stroke="#111111" stroke-width="0.2" >4</text>
<line x1="543.60" y1="390.80" x2="543.60" y2="392.80" stroke="#3a3a3a" stroke-width="0.8" />
<text x="543.60" y="401.00" font-size="6.5" text-anchor="middle" fill="#111111" stroke="#111111" stroke-width="0.2" >5</text>
<text x="431.00" y="409.20" font-size="6.75" text-anchor="middle" font-weight="bold" fill="#111111" stroke="#111111" stroke-width="0" >Iterations</text>
<text transform="translate(287.2,306.3) rotate(-90)" font-size="6.0" text-anchor="middle" font-weight="bold" fill="#111111">R2</text>
<rect x="474.50" y="224.50" width="67.00" height="57.80" rx="1.5" fill="#ffffff" fill-opacity="0.88" stroke="#d0d0d0" stroke-width="0.8"/>
<line x1="476.70" y1="230.40" x2="490.50" y2="230.40" stroke="#ff0000" stroke-width="1.1" stroke-dasharray="2.2,1.3"/>
<circle cx="483.60" cy="230.40" r="1.3" fill="#ff0000"/>
<text x="495.30" y="232.78" font-size="6.6" fill="#111" stroke="#111" stroke-width="0.24">LSTM-SSA-DO</text>
<line x1="476.70" y1="239.76" x2="490.50" y2="239.76" stroke="#0a0aff" stroke-width="1.1"/>
<circle cx="483.60" cy="239.76" r="0.9" fill="#0a0aff"/>
<text x="495.30" y="242.14" font-size="6.6" fill="#111" stroke="#111" stroke-width="0.24">LSTM-SSA</text>
<line x1="476.70" y1="249.12" x2="490.50" y2="249.12" stroke="#1f8f1f" stroke-width="1.5"/>
<circle cx="483.60" cy="249.12" r="0.9" fill="#1f8f1f"/>
<text x="495.30" y="251.50" font-size="6.6" fill="#111" stroke="#111" stroke-width="0.24">LSTM-ABC</text>
<line x1="476.70" y1="258.48" x2="490.50" y2="258.48" stroke="#cc33cc" stroke-width="1.6"/>
<circle cx="483.60" cy="258.48" r="0.9" fill="#cc33cc"/>
<text x="495.30" y="260.86" font-size="6.6" fill="#111" stroke="#111" stroke-width="0.24">LSTM-FA</text>
<line x1="476.70" y1="267.84" x2="490.50" y2="267.84" stroke="#e49c28" stroke-width="1.0"/>
<circle cx="483.60" cy="267.84" r="0.9" fill="#e49c28"/>
<text x="495.30" y="270.22" font-size="6.6" fill="#111" stroke="#111" stroke-width="0.24">LSTM-SCA</text>
<line x1="476.70" y1="277.20" x2="490.50" y2="277.20" stroke="#4a44a0" stroke-width="1.0"/>
<circle cx="483.60" cy="277.20" r="0.9" fill="#4a44a0"/>
<text x="495.30" y="279.58" font-size="6.6" fill="#111" stroke="#111" stroke-width="0.24">LSTM-TLB</text>
</g>
</svg></div>
</body></html>
